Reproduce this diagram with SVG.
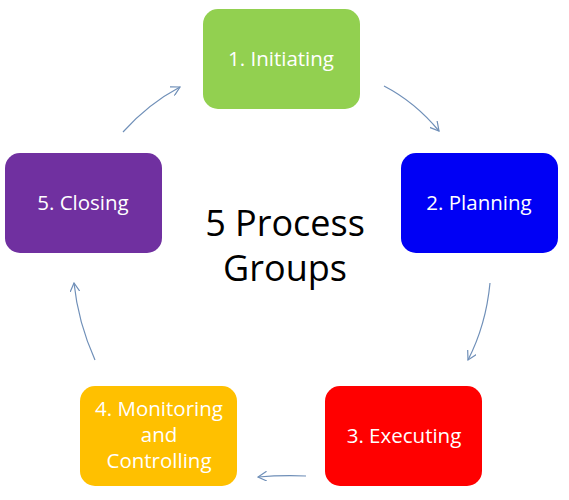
<svg xmlns="http://www.w3.org/2000/svg" width="569" height="500" viewBox="0 0 569 500">
<style>
.lbl{font-family:"Open Sans","Liberation Sans",sans-serif;font-size:20.5px;fill:#ffffff;text-anchor:middle}
.big{font-family:"Open Sans","Liberation Sans",sans-serif;font-size:36px;fill:#000000;text-anchor:middle}
.con{fill:none;stroke:#6F8FB8;stroke-width:1.2;marker-end:url(#ah)}
</style>
<defs>
<marker id="ah" viewBox="0 0 10 10" refX="9" refY="5" markerWidth="10" markerHeight="10" markerUnits="userSpaceOnUse" orient="auto">
<path d="M0,0 L9,5 L0,10" fill="none" stroke="#6F8FB8" stroke-width="1.2"/>
</marker>
</defs>
<rect width="569" height="500" fill="#ffffff"/>
<g id="connectors">
<path class="con" d="M384,86 Q415,102 439,131"/>
<path class="con" d="M490,283 Q486,325 468,360"/>
<path class="con" d="M306,476 Q282,475 258,477"/>
<path class="con" d="M95,360 Q78,322 74,283"/>
<path class="con" d="M123,132 Q148,104 180,87"/>
</g>
<g id="n1"><rect x="203" y="9" width="157" height="100" rx="15" fill="#92D050"/><text class="lbl" x="281" y="66">1. Initiating</text></g>
<g id="n2"><rect x="401" y="153" width="157" height="100" rx="15" fill="#0000F5"/><text class="lbl" x="479" y="210">2. Planning</text></g>
<g id="n3"><rect x="325" y="386" width="157" height="100" rx="15" fill="#FF0000"/><text class="lbl" x="404" y="443">3. Executing</text></g>
<g id="n4"><rect x="80" y="386" width="157" height="100" rx="15" fill="#FFC000"/><text class="lbl" x="159" y="416">4. Monitoring</text><text class="lbl" x="159" y="442">and</text><text class="lbl" x="159" y="468">Controlling</text></g>
<g id="n5"><rect x="5" y="153" width="157" height="100" rx="15" fill="#7030A0"/><text class="lbl" x="83" y="210">5. Closing</text></g>
<g id="center"><text class="big" x="285" y="236">5 Process</text><text class="big" x="285" y="281">Groups</text></g>
</svg>
